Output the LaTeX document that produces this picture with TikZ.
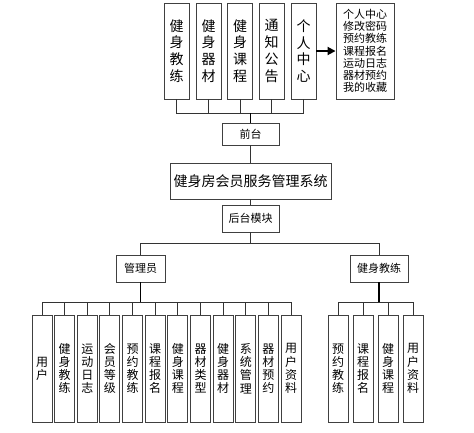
\documentclass[tikz,border=0pt]{standalone}
\usepackage{fontspec}
\newfontfamily\cjk{Noto Sans CJK SC}
\usetikzlibrary{arrows.meta}

\begin{document}
\begin{tikzpicture}[x=1pt,y=-1pt]
		\tikzset{
			box/.style={draw=black!75, line width=0.9pt, inner sep=0pt, align=center},
			top box/.style={box, minimum width=25pt, minimum height=96pt,
					font=\cjk\fontsize{14}{16.7}\selectfont},
			mid box/.style={box, minimum height=27pt,
					font=\cjk\fontsize{11}{13}\selectfont},
			leaf box/.style={box, minimum width=20pt, minimum height=107pt,
					font=\cjk\fontsize{12}{13.2}\selectfont},
			link/.style={draw=black!80, line width=0.9pt},
			bold link/.style={draw=black, line width=1.8pt},
		}
		\useasboundingbox[fill=white] (0,0) rectangle (474,432);
		% front end
		\node[top box] (t1) at (176.5,51) {健\\身\\教\\练};
		\node[top box] (t2) at (208.5,51) {健\\身\\器\\材};
		\node[top box] (t3) at (240,51) {健\\身\\课\\程};
		\node[top box] (t4) at (271.5,51) {通\\知\\公\\告};
		\node[top box] (t5) at (303.5,51) {个\\人\\中\\心};
		\node[box, minimum width=58pt, minimum height=96pt,
			font=\cjk\fontsize{11}{12.2}\selectfont] (info) at (365,51)
			{个人中心\\修改密码\\预约教练\\课程报名\\运动日志\\器材预约\\我的收藏};
		\node[mid box, minimum width=57pt, minimum height=22pt] (front) at (250.5,134) {前台};
		\node[box, minimum width=161pt, minimum height=36pt,
			font=\cjk\fontsize{14}{16}\selectfont] (sys) at (250.5,181) {健身房会员服务管理系统};
		\node[mid box, minimum width=57pt] (back) at (250.5,218.5) {后台模块};
		\node[mid box, minimum width=49pt] (admin) at (140.5,268.5) {管理员};
		\node[mid box, minimum width=58pt] (coach) at (379,268.5) {健身教练};
		%
		\coordinate (topbus) at (250.5,113);
		\coordinate (backbus) at (250.5,243);
		\coordinate (adminbus) at (140.5,302);
		\coordinate (coachbus) at (379,302);
		% admin leaves
		\foreach \x/\t [count=\i] in {42/{用\\户}, 64.6/{健\\身\\教\\练}, 87.3/{运\\动\\日\\志},
				109.9/{会\\员\\等\\级}, 132.6/{预\\约\\教\\练}, 155.2/{课\\程\\报\\名},
				177.8/{健\\身\\课\\程}, 200.5/{器\\材\\类\\型}, 223.1/{健\\身\\器\\材},
				245.8/{系\\统\\管\\理}, 268.4/{器\\材\\预\\约}, 291/{用\\户\\资\\料}}{
			\node[leaf box] (a\i) at (\x,368.5) {\t};
			\draw[link] (adminbus) -| (a\i.north);
		}
		% coach leaves
		\foreach \x/\t [count=\i] in {338/{预\\约\\教\\练}, 363/{课\\程\\报\\名},
				388/{健\\身\\课\\程}, 413/{用\\户\\资\\料}}{
			\node[leaf box] (c\i) at (\x,368.5) {\t};
			\draw[link] (coachbus) -| (c\i.north);
		}
		%
		\foreach \i in {1,...,5}
			\draw[link] (t\i.south) |- (topbus);
		\draw[bold link] (topbus) -- (front.north);
		\draw[link] (front.south) -- (sys.north);
		\draw[link] (sys.south) -- (back.south |- sys.south) -- (back.north);
		\draw[link] (back.south) -- (backbus);
		\draw[link] (backbus) -| (admin.north);
		\draw[link] (backbus) -| (coach.north);
		\draw[bold link] (admin.south) -- (adminbus);
		\draw[bold link] (coach.south) -- (coachbus);
		\draw[bold link, -{Triangle[length=8pt, width=8pt]}] (t5.east) -- (info.west);
	\end{tikzpicture}
\end{document}
